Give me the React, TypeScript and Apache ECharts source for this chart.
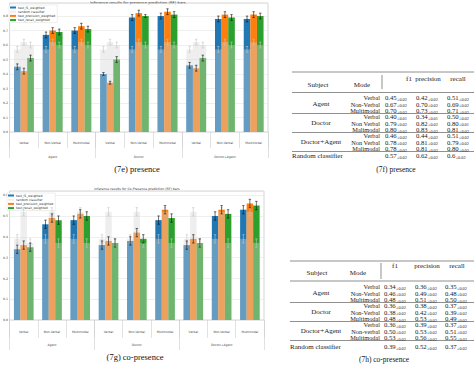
import React, { useEffect, useRef } from "react";
import * as echarts from "echarts";

// ---------------- data ----------------
const groups = ["Agent", "Doctor", "Doctor+Agent"];
const chartModes = ["Verbal", "Non-Verbal", "Multimodal", "Verbal", "Non-Verbal", "Multimodal", "Verbal", "Non-Verbal", "Multimodal"];
const metricNames = ["test_f1_weighted", "test_precision_weighted", "test_recall_weighted"];
const randomName = "random classifier";

// presence (7e / 7f)
const presenceModes = ["Verbal", "Non-Verbal", "Multimodal", "Verbal", "Non Verbal", "Malimodal", "Verbal", "Non Verbal", "Malimodal"];
const presenceF1 = [0.45, 0.67, 0.70, 0.40, 0.79, 0.80, 0.46, 0.78, 0.78];
const presenceF1Err = [0.02, 0.02, 0.02, 0.01, 0.02, 0.02, 0.02, 0.02, 0.02];
const presencePrecision = [0.42, 0.70, 0.73, 0.34, 0.82, 0.83, 0.44, 0.81, 0.81];
const presencePrecisionErr = [0.02, 0.02, 0.02, 0.01, 0.02, 0.02, 0.02, 0.02, 0.02];
const presenceRecall = [0.51, 0.69, 0.71, 0.50, 0.80, 0.81, 0.51, 0.79, 0.80];
const presenceRecallErr = [0.02, 0.02, 0.02, 0.02, 0.01, 0.02, 0.02, 0.02, 0.02];
const presenceRandom = [0.57, 0.62, 0.6];
const presenceRandomText = ["0.57", "0.62", "0.6"];
const presenceRandomErr = [0.02, 0.02, 0.02];

// co-presence (7g / 7h)
const copresenceModes = ["Verbal", "Non-Verbal", "Multimodal", "Verbal", "Non-Verbal", "Multimodal", "Verbal", "Non-verbal", "Multimodal"];
const copresenceF1 = [0.34, 0.46, 0.48, 0.36, 0.38, 0.48, 0.36, 0.50, 0.53];
const copresenceF1Err = [0.02, 0.02, 0.02, 0.02, 0.02, 0.02, 0.02, 0.02, 0.02];
const copresencePrecision = [0.36, 0.49, 0.51, 0.38, 0.42, 0.53, 0.39, 0.53, 0.56];
const copresencePrecisionErr = [0.02, 0.02, 0.02, 0.02, 0.02, 0.02, 0.02, 0.02, 0.02];
const copresenceRecall = [0.35, 0.48, 0.50, 0.37, 0.39, 0.49, 0.37, 0.51, 0.55];
const copresenceRecallErr = [0.02, 0.02, 0.02, 0.02, 0.02, 0.02, 0.02, 0.02, 0.02];
const copresenceRandom = [0.39, 0.52, 0.37];
const copresenceRandomText = ["0.39", "0.52", "0.37"];
const copresenceRandomErr = [0.02, 0.02, 0.02];

// ---------------- styles ----------------
const COLORS = ["#1f77b4", "#ff7f0e", "#2ca02c"];
const RANDOM_FILL = "rgba(212,212,212,0.4)";
const GAP = 0.31;
const ROW_FONT = 6.3;
const ROW_PITCH = 6.33;
const serif = "'Liberation Serif', 'DejaVu Serif', serif";
const sans = "'DejaVu Sans', sans-serif";

function txt(x: number, y: number, text: string, size: number, align = "left", family = serif, fill = "#222") {
  return {
    type: "text",
    x,
    y,
    silent: true,
    style: { text, fontSize: size, fontFamily: family, fill, align, verticalAlign: "middle", textAlign: align, textVerticalAlign: "middle" },
  };
}
function hline(x1: number, x2: number, y: number, w = 0.6, c = "#444") {
  return { type: "line", silent: true, shape: { x1, y1: y, x2, y2: y }, style: { stroke: c, lineWidth: w } };
}
function vline(x: number, y1: number, y2: number, w = 0.6, c = "#444") {
  return { type: "line", silent: true, shape: { x1: x, y1, x2: x, y2 }, style: { stroke: c, lineWidth: w } };
}
function numW(s: string, size: number) {
  let w = 0;
  for (const ch of s) w += ch === "." ? 0.25 * size : 0.5 * size;
  return w;
}

function errorSeries(name: string, xAxisIndex: number, yAxisIndex: number, values: number[], errs: number[], off: number, color: string) {
  return {
    type: "custom",
    name,
    xAxisIndex,
    yAxisIndex,
    z: 5,
    silent: true,
    data: values.map((v, i) => [i, v, errs[i]]),
    encode: { x: 0, y: 1 },
    renderItem: (params: any, api: any) => {
      const ci = api.value(0);
      const v = api.value(1);
      const e = api.value(2);
      const p = api.coord([ci, v]);
      const band = api.size([1, 0])[0];
      const bw = (band * (1 - GAP)) / 3;
      const x = p[0] + off * bw;
      const yt = api.coord([ci, v + e])[1];
      const yb = api.coord([ci, v - e])[1];
      const cap = 1.2;
      const st = { stroke: color, lineWidth: 0.6 };
      return {
        type: "group",
        children: [
          { type: "line", shape: { x1: x, y1: yt, x2: x, y2: yb }, style: st },
          { type: "line", shape: { x1: x - cap, y1: yt, x2: x + cap, y2: yt }, style: st },
          { type: "line", shape: { x1: x - cap, y1: yb, x2: x + cap, y2: yb }, style: st },
        ],
      };
    },
  };
}

function chartParts(gi: number, o: any) {
  const xb = gi * 3;
  const grid = { left: o.left, top: o.top, width: o.width, height: o.height, show: true, borderColor: "#bbb", borderWidth: 0.6, backgroundColor: "#fff" };
  const xAxis = [
    {
      gridIndex: gi, type: "category", data: chartModes, position: "bottom",
      axisLine: { show: false },
      axisTick: { show: true, interval: 0, length: o.tick1, lineStyle: { color: "#ccc", width: 0.6 } },
      axisLabel: { interval: 0, fontSize: 3, color: "#444", margin: o.m1, fontFamily: sans },
      splitLine: { show: false },
    },
    { gridIndex: gi, type: "category", data: chartModes, position: "bottom", show: false },
    {
      gridIndex: gi, type: "category", data: groups, position: "bottom",
      axisLine: { show: false },
      axisTick: { show: true, interval: 0, length: o.tick2, lineStyle: { color: "#ccc", width: 0.6 } },
      axisLabel: { interval: 0, fontSize: 3, color: "#444", margin: o.m2, fontFamily: sans },
    },
  ];
  const yAxis = {
    gridIndex: gi, type: "value", min: 0, max: o.max, interval: 0.1,
    axisLine: { show: false }, axisTick: { show: false },
    axisLabel: { fontSize: 3.2, color: "#444", margin: 1.5, showMaxLabel: false, formatter: (v: number) => v.toFixed(1), fontFamily: sans },
    splitLine: { lineStyle: { color: "#e4e4e4", width: 0.6 } },
  };
  const vals = [o.f1, o.prec, o.rec];
  const errs = [o.f1Err, o.precErr, o.recErr];
  const series: any[] = [];
  vals.forEach((v, k) => {
    series.push({
      type: "bar", name: metricNames[k], xAxisIndex: xb, yAxisIndex: gi, data: v,
      itemStyle: { color: COLORS[k] }, barCategoryGap: GAP * 100 + "%", barGap: "0%", z: 2, silent: true,
    });
  });
  o.random.forEach((r: number, k: number) => {
    series.push({
      type: "bar", name: randomName, xAxisIndex: xb + 1, yAxisIndex: gi, data: chartModes.map(() => r),
      itemStyle: { color: RANDOM_FILL }, barCategoryGap: GAP * 100 + "%", barGap: "0%", z: 3, silent: true,
    });
  });
  o.random.forEach((r: number, k: number) => {
    series.push(errorSeries("rerr" + gi + k, xb, gi, chartModes.map(() => r), chartModes.map(() => o.randomErr[k]), k - 1, "#c4c4c4"));
  });
  vals.forEach((v, k) => {
    series.push(errorSeries("err" + gi + k, xb, gi, v, errs[k], k - 1, "#111"));
  });
  const legend = {
    orient: "vertical", left: o.left + 2, top: o.top + 2, itemWidth: 6, itemHeight: 2, itemGap: 1.2,
    padding: [1, 2, 1, 1], backgroundColor: "rgba(255,255,255,0.9)", borderColor: "#ddd", borderWidth: 0.5,
    icon: "rect", selectedMode: false,
    textStyle: { fontSize: 3.1, color: "#333", fontFamily: sans, padding: [0, 0, 0, -3] },
    data: [metricNames[0], randomName, metricNames[1], metricNames[2]],
  };
  return { grid, xAxis, yAxis, series, legend };
}

function tableGraphics(t: any) {
  const els: any[] = [];
  const x2 = 474;
  els.push(hline(t.x0, x2, t.top));
  els.push(hline(t.x0, x2, t.mid));
  els.push(txt(t.subjHeadX, t.headY, "Subject", 7, "center"));
  els.push(txt(t.modeHeadX, t.headY, "Mode", 7, "center"));
  els.push(vline(t.barX, t.barY1, t.barY2));
  els.push(txt(t.headX[0], t.head1Y, "f1", 7, "center"));
  els.push(txt(t.headX[1], t.head1Y, "precision", 7, "center"));
  els.push(txt(t.headX[2], t.head1Y, "recall", 7, "center"));
  const cols = [
    [t.f1, t.f1Err],
    [t.prec, t.precErr],
    [t.rec, t.recErr],
  ];
  const cell = (x: number, y: number, v: string, e: string) => {
    els.push(txt(x, y, v, ROW_FONT + 0.4));
    els.push(txt(x + numW(v, ROW_FONT + 0.4) + 0.3, y + 1.7, "±" + e, 4.3));
  };
  groups.forEach((g, gi) => {
    const c = t.centers[gi];
    els.push(txt(t.subjX, c, g, 7, "center"));
    for (let r = 0; r < 3; r++) {
      const i = gi * 3 + r;
      const y = c + (r - 1) * ROW_PITCH;
      els.push(txt(t.modeX, y, t.modes[i], ROW_FONT, "right"));
      cols.forEach((col, k) => cell(t.colX[k], y, col[0][i].toFixed(2), col[1][i].toFixed(2)));
    }
    els.push(hline(t.x0, x2, c + 9.5));
  });
  els.push(txt(t.x0, t.randomY, "Random classifier", 7));
  t.randomText.forEach((v: string, k: number) => cell(t.colX[k], t.randomY, v, t.randomErr[k].toFixed(2)));
  els.push(txt(t.captionX, t.captionY, t.caption, 7.5, "center", serif, "#111"));
  return els;
}

export default function App() {
  const ref = useRef<HTMLDivElement>(null);
  useEffect(() => {
    if (!ref.current) return;
    const chart = echarts.init(ref.current, undefined, { renderer: "svg" });
    const top = chartParts(0, {
      left: 7, top: 3, width: 261, height: 129, max: 0.89, tick1: 16, tick2: 26, m1: 9.5, m2: 23.5,
      f1: presenceF1, f1Err: presenceF1Err, prec: presencePrecision, precErr: presencePrecisionErr,
      rec: presenceRecall, recErr: presenceRecallErr, random: presenceRandom, randomErr: presenceRandomErr,
    });
    const bot = chartParts(1, {
      left: 5, top: 191, width: 259, height: 129, max: 0.62, tick1: 18, tick2: 30, m1: 10.5, m2: 23.5,
      f1: copresenceF1, f1Err: copresenceF1Err, prec: copresencePrecision, precErr: copresencePrecisionErr,
      rec: copresenceRecall, recErr: copresenceRecallErr, random: copresenceRandom, randomErr: copresenceRandomErr,
    });
    const graphics: any[] = [
      txt(138, 2, "Inference results for presence prediction (RF) bars", 3.8, "center", sans, "#333"),
      txt(137, 189, "Inference results for Co-Presence prediction (RF) bars", 3.2, "center", sans, "#333"),
      txt(137, 169, "(7e) presence", 8.5, "center", serif, "#111"),
      txt(135, 357, "(7g) co-presence", 8.5, "center", serif, "#111"),
      ...tableGraphics({
        x0: 292, top: 72, mid: 92.5, head1Y: 78.5, headY: 85, subjHeadX: 318, modeHeadX: 362,
        barX: 382, barY1: 75, barY2: 89, headX: [409, 428, 458], subjX: 321, modeX: 380,
        colX: [385, 416, 447], centers: [104, 123, 142], randomY: 155.5,
        modes: presenceModes, f1: presenceF1, f1Err: presenceF1Err, prec: presencePrecision, precErr: presencePrecisionErr,
        rec: presenceRecall, recErr: presenceRecallErr, randomText: presenceRandomText, randomErr: presenceRandomErr,
        captionX: 396, captionY: 169, caption: "(7f) presence",
      }),
      ...tableGraphics({
        x0: 290, top: 261, mid: 281, head1Y: 265.5, headY: 273, subjHeadX: 317, modeHeadX: 358,
        barX: 381, barY1: 263, barY2: 279, headX: [395, 427, 457], subjX: 321, modeX: 380,
        colX: [384, 415, 445], centers: [293, 312, 331], randomY: 346.5,
        modes: copresenceModes, f1: copresenceF1, f1Err: copresenceF1Err, prec: copresencePrecision, precErr: copresencePrecisionErr,
        rec: copresenceRecall, recErr: copresenceRecallErr, randomText: copresenceRandomText, randomErr: copresenceRandomErr,
        captionX: 384, captionY: 359, caption: "(7h) co-presence",
      }),
    ];
    chart.setOption({
      animation: false,
      backgroundColor: "#fff",
      grid: [top.grid, bot.grid],
      xAxis: [...top.xAxis, ...bot.xAxis],
      yAxis: [top.yAxis, bot.yAxis],
      legend: [top.legend, bot.legend],
      series: [...top.series, ...bot.series],
      graphic: { elements: graphics },
    } as any);
    return () => chart.dispose();
  }, []);
  return <div ref={ref} style={{ position: "fixed", left: 0, top: 0, width: 474, height: 375 }} />;
}
